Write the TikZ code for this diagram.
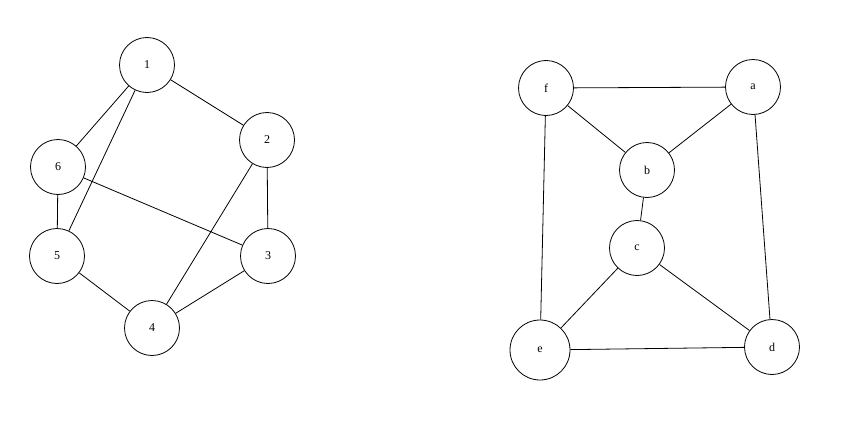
\documentclass[tikz,border=0pt]{standalone}
\usepackage{fontspec}
\setmainfont{Liberation Serif}
\begin{document}
\begin{tikzpicture}[x=1pt,y=-1pt,
  vtx/.style={circle,draw,line width=0.8pt,minimum size=55pt,inner sep=0pt,font=\fontsize{12}{14}\selectfont},
  edge/.style={line width=0.8pt}]
\useasboundingbox (0,0) rectangle (848,420);
\node[vtx] (n1) at (147,65) {1};
\node[vtx] (n2) at (267,140) {2};
\node[vtx] (n6) at (58,167) {6};
\node[vtx] (n3) at (268,256) {3};
\node[vtx] (n5) at (57,256) {5};
\node[vtx] (n4) at (152,328) {4};
\draw[edge] (n1)--(n6) (n1)--(n5) (n1)--(n2) (n6)--(n5) (n6)--(n3) (n2)--(n3) (n2)--(n4) (n3)--(n4) (n5)--(n4);
\node[vtx] (f) at (546,88) {f};
\node[vtx] (a) at (753,87) {a};
\node[vtx] (b) at (647,170) {b};
\node[vtx] (c) at (637,248) {c};
\node[vtx,minimum size=60pt] (e) at (540,350) {e};
\node[vtx] (d) at (772,347) {d};
\draw[edge] (f)--(a) (f)--(b) (a)--(b) (b)--(c) (f)--(e) (a)--(d) (c)--(e) (c)--(d) (e)--(d);
\end{tikzpicture}
\end{document}
